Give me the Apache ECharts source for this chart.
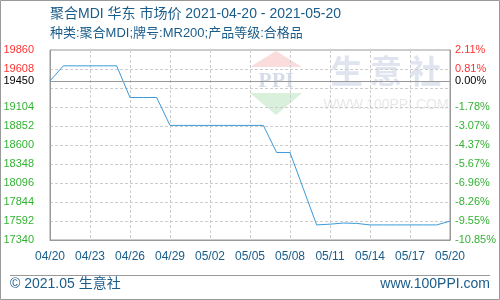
<!DOCTYPE html>
<html>
<head>
<meta charset="utf-8">
<script src="https://cdn.jsdelivr.net/npm/echarts@6/dist/echarts.min.js"></script>
<style>
html,body{margin:0;padding:0;background:#fff;}
#chart{width:500px;height:300px;}
</style>
</head>
<body>
<div id="chart"></div>
<script>
const categories = ['04/20','04/21','04/22','04/23','04/24','04/25','04/26','04/27','04/28','04/29','04/30',
  '05/01','05/02','05/03','05/04','05/05','05/06','05/07','05/08','05/09','05/10',
  '05/11','05/12','05/13','05/14','05/15','05/16','05/17','05/18','05/19','05/20'];
const prices = [19450,19650,19650,19650,19650,19650,19230,19230,19230,18860,18860,
  18860,18860,18860,18860,18860,18860,18500,18500,18020,17540,
  17550,17565,17560,17540,17540,17540,17540,17540,17540,17590];
const baseValue = 19450;
const yMin = 17340;
const yMax = 19860;
const yStep = 252;
const titleText = '聚合MDI 华东 市场价 2021-04-20 - 2021-05-20';
const subtitleText = '种类:聚合MDI;牌号:MR200;产品等级:合格品';
const footerLeft = '© 2021.05 生意社';
const footerRight = 'www.100PPI.com';

const FONT = '"Liberation Sans", "Noto Sans CJK SC", sans-serif';
const BLUE = '#1a5c8a';
const RED = '#ff3333';
const GREEN = '#33b233';

const chart = echarts.init(document.getElementById('chart'), null, {renderer: 'canvas'});

function pct(v) {
  return ((v - baseValue) / baseValue * 100).toFixed(2) + '%';
}
function nearBase(v) {
  return Math.abs(v - baseValue) < yStep / 2 && v !== baseValue;
}
const rich = {
  r: {color: RED, fontSize: 11, fontFamily: FONT},
  g: {color: GREEN, fontSize: 11, fontFamily: FONT},
  k: {color: '#000', fontSize: 11, fontFamily: FONT}
};

const option = {
  animation: false,
  backgroundColor: '#fff',
  grid: {left: 50, right: 50, top: 50, bottom: 60, show: true, borderColor: '#999', borderWidth: 1},
  graphic: [
    {type: 'rect', z: -5, shape: {x: 0.5, y: 0.5, width: 499, height: 299}, style: {fill: 'none', stroke: '#999', lineWidth: 1}},
    {type: 'text', z: 10, left: 50, top: 7, style: {text: titleText, fill: BLUE, font: '14px ' + FONT}},
    {type: 'text', z: 10, left: 50, top: 27, style: {text: subtitleText, fill: BLUE, font: '13px ' + FONT}},
    {type: 'line', z: 10, shape: {x1: 10, y1: 275.5, x2: 490, y2: 275.5}, style: {stroke: '#999', lineWidth: 1}},
    {type: 'text', z: 10, left: 10, top: 277, style: {text: footerLeft, fill: BLUE, font: '14px ' + FONT}},
    {type: 'text', z: 10, right: 10, top: 277, style: {text: footerRight, fill: BLUE, font: '14px ' + FONT}},
    // watermark logo
    {type: 'polygon', z: -1, shape: {points: [[276, 51], [250, 67], [302, 67]]}, style: {fill: '#fadcdc'}},
    {type: 'text', z: -1, x: 276, y: 81, style: {text: 'PPI', fill: '#d6dcea', font: 'bold 22px "Liberation Serif", serif', align: 'center', verticalAlign: 'middle'}},
    {type: 'polygon', z: -1, shape: {points: [[250, 93], [302, 93], [276, 115]]}, style: {fill: '#d9f0dd'}},
    {type: 'text', z: -1, x: 386, y: 71, style: {text: '生 意 社', fill: '#dfe4ee', font: 'bold 32px "Noto Sans CJK SC", sans-serif', align: 'center', verticalAlign: 'middle'}},
    {type: 'text', z: -1, x: 386, y: 105, style: {text: 'WWW.100PPI.COM', fill: '#e8e8e8', font: '14px ' + FONT, align: 'center', verticalAlign: 'middle'}}
  ],
  xAxis: {
    type: 'category',
    data: categories,
    boundaryGap: false,
    axisLine: {lineStyle: {color: '#999', width: 1}},
    axisTick: {show: false},
    axisLabel: {interval: 2, color: BLUE, fontSize: 12, fontFamily: FONT, margin: 11},
    splitLine: {show: true, interval: 2, lineStyle: {color: '#ccc', type: [3, 2]}}
  },
  yAxis: [
    {
      type: 'value', min: yMin, max: yMax, interval: yStep,
      axisLine: {show: true, lineStyle: {color: '#999'}},
      axisTick: {show: false},
      splitLine: {show: true, lineStyle: {color: '#ccc', type: [3, 2]}},
      axisLabel: {
        margin: 16, fontSize: 11, fontFamily: FONT, rich: rich,
        formatter: function (v) {
          if (nearBase(v)) return '';
          const key = v > baseValue ? 'r' : (v < baseValue ? 'g' : 'k');
          return '{' + key + '|' + v + '}';
        }
      }
    },
    {
      type: 'value', min: yMin, max: yMax, interval: yStep, position: 'right',
      axisLine: {show: true, lineStyle: {color: '#999'}},
      axisTick: {show: false},
      splitLine: {show: false},
      axisLabel: {
        margin: 5, fontSize: 11, fontFamily: FONT, rich: rich,
        formatter: function (v) {
          if (nearBase(v)) return '';
          const key = v > baseValue ? 'r' : (v < baseValue ? 'g' : 'k');
          return '{' + key + '|' + pct(v) + '}';
        }
      }
    }
  ],
  series: [{
    type: 'line',
    data: prices,
    symbol: 'none',
    lineStyle: {color: '#3a9ad9', width: 1},
    markLine: {
      silent: true,
      symbol: 'none',
      lineStyle: {color: '#999', type: 'solid', width: 1},
      data: [
        {yAxis: baseValue, label: {show: true, position: 'start', distance: 16, formatter: String(baseValue), color: '#000', fontSize: 11, fontFamily: FONT}},
        {yAxis: baseValue, label: {show: true, position: 'end', distance: 5, formatter: pct(baseValue), color: '#000', fontSize: 11, fontFamily: FONT}}
      ]
    }
  }]
};
chart.setOption(option);
</script>
</body>
</html>
